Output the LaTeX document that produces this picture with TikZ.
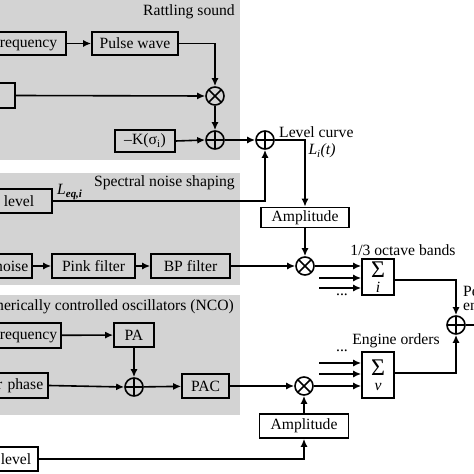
\documentclass[tikz,border=0pt]{standalone}
\usepackage{fontspec}
\setmainfont{Liberation Serif}
\usetikzlibrary{arrows.meta,calc}
\definecolor{panel}{RGB}{211,211,211}
\tikzset{
  lw/.style={line width=1.6bp},
  box/.style={draw, lw, rectangle, inner sep=0pt, font=\fontsize{15.7}{18}\selectfont},
  arr/.style={lw, -{Latex[length=8bp,width=7bp]}},
  ln/.style={lw},
  lbl/.style={font=\fontsize{15.7}{18}\selectfont, inner sep=0pt},
  plusc/.style={circle, draw, lw, minimum size=18bp, inner sep=0pt,
    path picture={\draw[lw] (path picture bounding box.north) -- (path picture bounding box.south)
      (path picture bounding box.west) -- (path picture bounding box.east);}},
  timesc/.style={circle, draw, lw, minimum size=18bp, inner sep=0pt,
    path picture={\draw[lw] (path picture bounding box.north east) -- (path picture bounding box.south west)
      (path picture bounding box.north west) -- (path picture bounding box.south east);}},
  sumbox/.style={box, minimum width=32bp, align=center},
}
\begin{document}
\begin{tikzpicture}[x=1bp, y=-1bp]
\useasboundingbox (0,0) rectangle (474,474);
\clip (0,0) rectangle (474,474);
\fill[white] (0,0) rectangle (474,474);
% panels
\fill[panel] (-20,-10) rectangle (240,160);
\fill[panel] (-20,173) rectangle (240,285);
\fill[panel] (-20,295) rectangle (240,415);
\node[lbl, anchor=east] (t1) at (235,12) {Rattling sound};
\node[lbl, anchor=east] (t2) at (235,183) {Spectral noise shaping};
\node[lbl, anchor=east] (t3) at (234,307) {Numerically controlled oscillators (NCO)};

% Rattling sound
\node[box, anchor=east, minimum width=130bp, minimum height=23bp, align=right, text width=112bp] (freq1) at (67,43.5) {frequency};
\node[box, minimum width=86bp, minimum height=23bp] (pulse) at (135,43.5) {Pulse wave};
\node[box, anchor=east, minimum width=80bp, minimum height=25bp] (rbox) at (16,95.5) {};
\node[timesc] (ot1) at (215,96) {};
\node[plusc] (op1) at (215,140) {};
\node[box, minimum width=60bp, minimum height=22bp] (K) at (145,141) {–K(σ\textsubscript{i})};
\node[plusc] (op2) at (265,140) {};
\node[lbl, anchor=west] (lc) at (279,132) {Level curve};
\node[lbl] (lit) at (322,151) {\textit{L\textsubscript{i}(t)}};

\draw[arr] (freq1) -- (pulse);
\draw[arr] (pulse.east) -| (ot1.north);
\draw[arr] (rbox.east) -- (ot1.west);
\draw[arr] (ot1.south) -- (op1.north);
\draw[arr] (K.east) -- (op1.west);
\draw[arr] (op1.east) -- (op2.west);

% Spectral noise shaping
\node[box, anchor=east, minimum width=100bp, minimum height=24bp, align=right, text width=64bp] (lev1) at (53,201) {level};
\node[lbl, anchor=west] (leq) at (57,192) {\textit{L\textsubscript{\textbf{eq,i}}}};
\node[box, anchor=east, minimum width=100bp, minimum height=24bp, align=right, text width=92bp] (noise) at (33,266) {noise};
\node[box, minimum width=83bp, minimum height=24bp] (pink) at (93.5,266) {Pink filter};
\node[box, minimum width=79bp, minimum height=24bp] (bpf) at (190.5,266) {BP filter};
\node[box, minimum width=88bp, minimum height=20bp] (amp1) at (305,217.5) {Amplitude};
\node[timesc] (ot2) at (305,266) {};
\node[sumbox, minimum height=36bp] (sum1) at (378,277) {{\fontsize{24}{20}\selectfont Σ}\\[-3bp]\textit{i}};
\node[lbl] (oct) at (403,250) {1/3 octave bands};
\node[lbl] (dots1) at (342,295) {...};
\coordinate (in1a) at (319,278);
\coordinate (in1b) at (319,288);

\draw[arr] (lev1.east) -| (op2.south);
\draw[arr] (op2.east) -| (amp1.north);
\draw[arr] (noise) -- (pink);
\draw[arr] (pink) -- (bpf);
\draw[arr] (bpf.east) -- (ot2.west);
\draw[arr] (amp1.south) -- (ot2.north);
\draw[arr] (ot2.east) -- (sum1.west |- ot2);
\draw[arr] (in1a) -- (sum1.west |- in1a);
\draw[arr] (in1b) -- (sum1.west |- in1b);

% NCO
\node[box, anchor=east, minimum width=120bp, minimum height=25bp, align=right, text width=112bp] (freq2) at (62,335.5) {frequency};
\node[box, minimum width=40bp, minimum height=24bp] (pa) at (134,335) {PA};
\node[plusc] (op4) at (134,387) {};
\node[box, anchor=east, minimum width=120bp, minimum height=25bp, align=right, text width=110bp] (phase) at (49,385.5) {Order phase};
\node[box, minimum width=47bp, minimum height=24bp] (pac) at (205.5,386) {PAC};
\node[timesc] (ot3) at (304,386) {};
\node[sumbox, minimum height=46bp] (sum2) at (378,375) {{\fontsize{24}{20}\selectfont Σ}\\[-3bp]\textit{ν}};
\node[lbl] (eo) at (396,341) {Engine orders};
\node[lbl] (dots2) at (342,351) {...};
\coordinate (in2a) at (319,363);
\coordinate (in2b) at (319,374);
\node[box, minimum width=89bp, minimum height=24bp] (amp2) at (304,426) {Amplitude};
\node[box, anchor=east, minimum width=100bp, minimum height=24bp, align=right, text width=86bp] (lev2) at (39,459) {level};

\draw[arr] (freq2) -- (pa);
\draw[arr] (pa) -- (op4);
\draw[arr] (phase.east) -- (op4.west);
\draw[arr] (op4) -- (pac);
\draw[arr] (pac.east) -- (ot3.west);
\draw[arr] (ot3.east) -- (sum2.west |- ot3);
\draw[arr] (in2a) -- (sum2.west |- in2a);
\draw[arr] (in2b) -- (sum2.west |- in2b);
\draw[arr] (amp2.north) -- (ot3.south);
\draw[arr] (lev2.east) -| (amp2.south);

% output
\node[plusc] (op3) at (456,325) {};
\coordinate (outr) at (480,325);
\draw[arr] ($(sum1.east)+(0,3)$) -| (op3.north);
\draw[arr] ($(sum2.east)+(0,-2)$) -| (op3.south);
\draw[ln] (op3.east) -- (outr);
\node[lbl, anchor=west] (pe) at (463,291) {Perceived};
\node[lbl, anchor=west] (en) at (463,307) {engine};
\end{tikzpicture}
\end{document}
